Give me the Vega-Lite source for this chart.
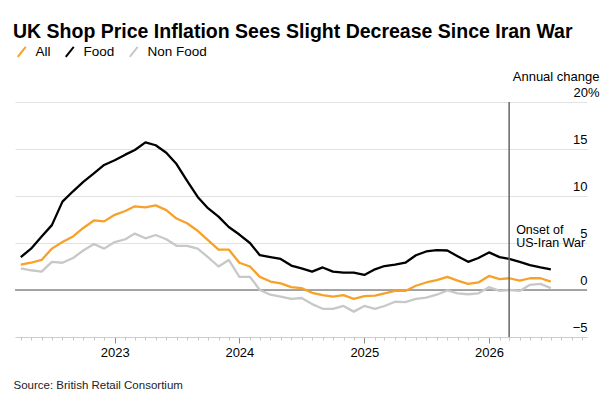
{
  "$schema": "https://vega.github.io/schema/vega-lite/v6.json",
  "width": 572,
  "height": 235,
  "autosize": "none",
  "padding": {"left": 15, "top": 102, "right": 27, "bottom": 67},
  "background": "white",
  "title": {
    "text": "UK Shop Price Inflation Sees Slight Decrease Since Iran War",
    "anchor": "start",
    "frame": "group",
    "font": "Liberation Sans",
    "fontSize": 19.5,
    "fontWeight": "bold",
    "color": "#000000",
    "offset": 3,
    "dx": -2
  },
  "config": {"view": {"stroke": null}, "font": "Liberation Sans"},
  "datasets": {
    "shop": [
      {"date": "2022-04-01", "All": 2.7, "Food": 3.5, "Non Food": 2.3},
      {"date": "2022-05-01", "All": 2.9, "Food": 4.4, "Non Food": 2.1},
      {"date": "2022-06-01", "All": 3.2, "Food": 5.7, "Non Food": 1.95},
      {"date": "2022-07-01", "All": 4.4, "Food": 6.9, "Non Food": 3.0},
      {"date": "2022-08-01", "All": 5.1, "Food": 9.4, "Non Food": 2.9},
      {"date": "2022-09-01", "All": 5.7, "Food": 10.5, "Non Food": 3.4},
      {"date": "2022-10-01", "All": 6.6, "Food": 11.5, "Non Food": 4.2},
      {"date": "2022-11-01", "All": 7.4, "Food": 12.4, "Non Food": 4.9},
      {"date": "2022-12-01", "All": 7.3, "Food": 13.3, "Non Food": 4.4},
      {"date": "2023-01-01", "All": 8.0, "Food": 13.8, "Non Food": 5.1},
      {"date": "2023-02-01", "All": 8.4, "Food": 14.4, "Non Food": 5.4},
      {"date": "2023-03-01", "All": 8.9, "Food": 14.9, "Non Food": 6.0},
      {"date": "2023-04-01", "All": 8.8, "Food": 15.7, "Non Food": 5.5},
      {"date": "2023-05-01", "All": 9.0, "Food": 15.4, "Non Food": 5.85},
      {"date": "2023-06-01", "All": 8.5, "Food": 14.6, "Non Food": 5.4},
      {"date": "2023-07-01", "All": 7.6, "Food": 13.4, "Non Food": 4.7},
      {"date": "2023-08-01", "All": 7.1, "Food": 11.6, "Non Food": 4.7},
      {"date": "2023-09-01", "All": 6.3, "Food": 9.9, "Non Food": 4.4},
      {"date": "2023-10-01", "All": 5.3, "Food": 8.7, "Non Food": 3.5},
      {"date": "2023-11-01", "All": 4.3, "Food": 7.8, "Non Food": 2.5},
      {"date": "2023-12-01", "All": 4.3, "Food": 6.7, "Non Food": 3.2},
      {"date": "2024-01-01", "All": 2.9, "Food": 5.9, "Non Food": 1.4},
      {"date": "2024-02-01", "All": 2.5, "Food": 5.0, "Non Food": 1.4},
      {"date": "2024-03-01", "All": 1.4, "Food": 3.7, "Non Food": 0.0},
      {"date": "2024-04-01", "All": 0.9, "Food": 3.5, "Non Food": -0.5},
      {"date": "2024-05-01", "All": 0.7, "Food": 3.3, "Non Food": -0.7},
      {"date": "2024-06-01", "All": 0.3, "Food": 2.6, "Non Food": -0.95},
      {"date": "2024-07-01", "All": 0.2, "Food": 2.3, "Non Food": -0.85},
      {"date": "2024-08-01", "All": -0.3, "Food": 1.95, "Non Food": -1.5},
      {"date": "2024-09-01", "All": -0.55, "Food": 2.4, "Non Food": -2.0},
      {"date": "2024-10-01", "All": -0.7, "Food": 1.95, "Non Food": -2.0},
      {"date": "2024-11-01", "All": -0.55, "Food": 1.85, "Non Food": -1.7},
      {"date": "2024-12-01", "All": -0.95, "Food": 1.85, "Non Food": -2.3},
      {"date": "2025-01-01", "All": -0.65, "Food": 1.6, "Non Food": -1.7},
      {"date": "2025-02-01", "All": -0.6, "Food": 2.2, "Non Food": -2.0},
      {"date": "2025-03-01", "All": -0.35, "Food": 2.55, "Non Food": -1.7},
      {"date": "2025-04-01", "All": -0.1, "Food": 2.7, "Non Food": -1.25},
      {"date": "2025-05-01", "All": -0.1, "Food": 2.9, "Non Food": -1.3},
      {"date": "2025-06-01", "All": 0.45, "Food": 3.7, "Non Food": -0.95},
      {"date": "2025-07-01", "All": 0.8, "Food": 4.1, "Non Food": -0.8},
      {"date": "2025-08-01", "All": 1.05, "Food": 4.25, "Non Food": -0.5},
      {"date": "2025-09-01", "All": 1.4, "Food": 4.2, "Non Food": -0.05},
      {"date": "2025-10-01", "All": 1.0, "Food": 3.6, "Non Food": -0.35},
      {"date": "2025-11-01", "All": 0.65, "Food": 3.0, "Non Food": -0.45},
      {"date": "2025-12-01", "All": 0.8, "Food": 3.4, "Non Food": -0.35},
      {"date": "2026-01-01", "All": 1.5, "Food": 4.0, "Non Food": 0.3},
      {"date": "2026-02-01", "All": 1.15, "Food": 3.5, "Non Food": -0.1},
      {"date": "2026-03-01", "All": 1.25, "Food": 3.3, "Non Food": 0.0},
      {"date": "2026-04-01", "All": 1.0, "Food": 3.0, "Non Food": -0.1},
      {"date": "2026-05-01", "All": 1.25, "Food": 2.65, "Non Food": 0.55},
      {"date": "2026-06-01", "All": 1.25, "Food": 2.4, "Non Food": 0.65},
      {"date": "2026-07-01", "All": 0.9, "Food": 2.2, "Non Food": 0.2}
    ],
    "events": [
      {"date": "2026-03-01", "label": "Onset of\nUS-Iran War", "anchorValue": 6}
    ],
    "zero": [
      {"value": 0}
    ]
  },
  "data": {"name": "shop"},
  "resolve": {"axis": {"x": "independent", "y": "independent"}},
  "layer": [
    {
      "mark": {"type": "point", "opacity": 0},
      "encoding": {
        "x": {
          "field": "date",
          "type": "temporal",
          "scale": {"type": "utc", "domain": [{"year": 2022, "month": 3, "date": 15, "utc": true}, {"year": 2026, "month": 10, "date": 15, "utc": true}]},
          "axis": {
            "orient": "bottom",
            "tickCount": {"interval": "month", "step": 1},
            "labels": false,
            "domain": false,
            "grid": false,
            "ticks": true,
            "tickSize": 3,
            "tickColor": "#c4c4c4",
            "title": null
          }
        },
        "y": {"field": "Food", "type": "quantitative", "scale": {"domain": [-5, 20], "nice": false}, "axis": null}
      }
    },
    {
      "data": {"name": "zero"},
      "mark": {"type": "rule", "color": "#8a8a8a", "strokeWidth": 1.5},
      "encoding": {"y": {"field": "value", "type": "quantitative", "axis": null}}
    },
    {
      "transform": [{"fold": ["All", "Food", "Non Food"], "as": ["series", "value"]}],
      "mark": {"type": "line", "strokeWidth": 2.3, "strokeJoin": "round"},
      "encoding": {
        "x": {
          "field": "date",
          "type": "temporal",
          "scale": {"type": "utc", "domain": [{"year": 2022, "month": 3, "date": 15, "utc": true}, {"year": 2026, "month": 10, "date": 15, "utc": true}]},
          "axis": {
            "orient": "bottom",
            "format": "%Y",
            "tickCount": {"interval": "year", "step": 1},
            "tickSize": 6,
            "tickColor": "#8a8a8a",
            "tickWidth": 1,
            "domainColor": "#cccccc",
            "grid": false,
            "labelFontSize": 13,
            "labelColor": "#000000",
            "labelPadding": 3,
            "title": "Source: British Retail Consortium",
            "titleAnchor": "start",
            "titleAlign": "left",
            "titleX": -2,
            "titleY": 51,
            "titleBaseline": "alphabetic",
            "titleFontSize": 11.5,
            "titleFontWeight": "normal",
            "titleColor": "#222222"
          }
        },
        "y": {
          "field": "value",
          "type": "quantitative",
          "scale": {"domain": [-5, 20], "nice": false},
          "axis": {
            "orient": "right",
            "values": [-5, 0, 5, 10, 15, 20],
            "grid": true,
            "gridColor": "#e2e2e2",
            "gridWidth": 1,
            "domain": false,
            "ticks": false,
            "labelAlign": "right",
            "labelPadding": {"condition": {"test": "datum.value == 20", "value": 12}, "value": 0},
            "labelBaseline": "alphabetic",
            "labelOffset": -6,
            "labelFontSize": 13,
            "labelColor": "#000000",
            "labelExpr": "datum.value == 20 ? '20%' : datum.label",
            "title": "Annual change",
            "titleAngle": 0,
            "titleAlign": "right",
            "titleBaseline": "alphabetic",
            "titleX": 12,
            "titleY": -22,
            "titleFontSize": 13,
            "titleFontWeight": "normal",
            "titleColor": "#000000"
          }
        },
        "color": {
          "field": "series",
          "type": "nominal",
          "scale": {"domain": ["All", "Food", "Non Food"], "range": ["#f7a129", "#000000", "#c8c8c8"]},
          "legend": {
            "orient": "none",
            "legendX": 0,
            "legendY": -57,
            "direction": "horizontal",
            "title": null,
            "symbolType": "M-0.8,1L0.8,-1",
            "symbolSize": 100,
            "symbolStrokeWidth": 2,
            "labelFontSize": 13.5,
            "labelColor": "#000000",
            "labelOffset": 7,
            "columnPadding": 10
          }
        }
      }
    },
    {
      "data": {"name": "events"},
      "mark": {"type": "rule", "color": "#666666", "strokeWidth": 1.5},
      "encoding": {"x": {"field": "date", "type": "temporal", "axis": null}}
    },
    {
      "data": {"name": "events"},
      "mark": {"type": "text", "align": "left", "baseline": "alphabetic", "dx": 7, "fontSize": 12.5, "lineHeight": 13.5, "lineBreak": "\n", "color": "#000000"},
      "encoding": {
        "x": {"field": "date", "type": "temporal", "axis": null},
        "y": {"field": "anchorValue", "type": "quantitative", "axis": null},
        "text": {"field": "label"}
      }
    }
  ]
}
